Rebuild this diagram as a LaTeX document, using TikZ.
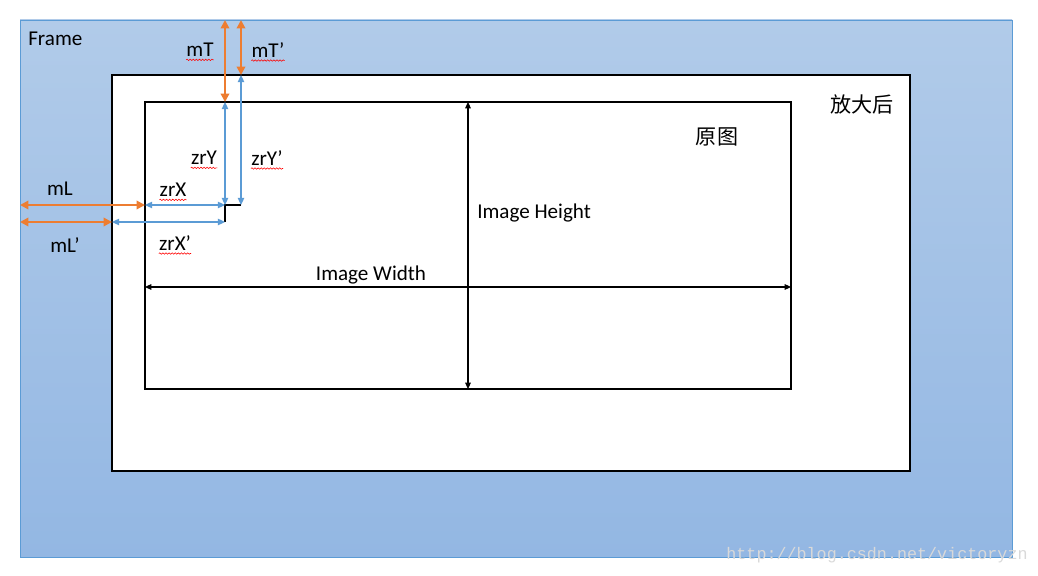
\documentclass[tikz,border=0pt]{standalone}
\usepackage{fontspec}
\setmainfont{Carlito}
\newfontfamily\cjk{Noto Sans CJK SC}
\newfontfamily\wmfont{Liberation Mono}
\usetikzlibrary{arrows.meta,decorations.pathmorphing}
\definecolor{frametop}{RGB}{177,203,233}
\definecolor{framebot}{RGB}{147,183,227}
\definecolor{frameline}{RGB}{91,155,213}
\definecolor{morange}{RGB}{237,125,49}
\definecolor{zblue}{RGB}{91,155,213}
\tikzset{
  lbl/.style={inner sep=0pt,font=\fontsize{15}{18}\selectfont},
  marg/.style={morange,line width=1.8pt,{Triangle[length=6pt,width=6pt]}-{Triangle[length=6pt,width=6pt]}},
  zoomr/.style={zblue,line width=0.9pt,{Triangle[length=5pt,width=4.5pt]}-{Triangle[length=5pt,width=4.5pt]}},
  dimen/.style={black,line width=0.8pt,{Triangle[length=4.5pt,width=4pt]}-{Triangle[length=4.5pt,width=4pt]}},
  squig/.style={red,line width=0.4pt,decorate,decoration={snake,amplitude=0.5pt,segment length=2.2pt}}
}

\begin{document}
\begin{tikzpicture}[x=0.025cm,y=-0.025cm]
\useasboundingbox (0,0) rectangle (1038,576);
% frame
\shade[top color=frametop,bottom color=framebot] (20,20) rectangle (1012,557);
\draw[frameline,line width=0.7pt] (20,20) rectangle (1012,557);
\node[lbl,anchor=west] (frame) at (28,39) {Frame};
% enlarged and original image
\draw[black,fill=white,line width=0.8pt] (112,75) rectangle (910,471);
\draw[black,line width=0.8pt] (145,102) rectangle (791,389);
\node[lbl] (big) at (862,104) {\cjk 放大后};
\node[lbl] (orig) at (717,137) {\cjk 原图};

% image size
\coordinate (hT) at (468,102);
\coordinate (hB) at (468,389);
\coordinate (wL) at (145,287);
\coordinate (wR) at (791,287);
\draw[dimen] (hT) -- (hB);
\draw[dimen] (wL) -- (wR);
\node[lbl,anchor=west] (ih) at (477,213) {Image Height};
\node[lbl] (iw) at (371,275) {Image Width};

% zoom point
\coordinate (p) at (225,205);
\coordinate (pR) at (241,205);
\coordinate (pB) at (225,222);
\draw[black,line width=0.8pt] (pR) -- (p) -- (pB);

% margins
\coordinate (fTa) at (225,20);
\coordinate (fTb) at (241,20);
\coordinate (oT) at (225,102);
\coordinate (bT) at (241,75);
\coordinate (fLa) at (20,205);
\coordinate (fLb) at (20,222);
\coordinate (oL) at (145,205);
\coordinate (bL) at (112,222);
\draw[zoomr] (oT) -- (p);
\draw[zoomr] (bT) -- (pR);
\draw[zoomr] (oL) -- (p);
\draw[zoomr] (bL) -- (pB);
\draw[marg] (fTa) -- (oT);
\draw[marg] (fTb) -- (bT);
\draw[marg] (fLa) -- (oL);
\draw[marg] (fLb) -- (bL);

% labels
\node[lbl] (mT) at (200,50) {mT};
\node[lbl] (mTp) at (268,50) {mT’};
\node[lbl] (zrY) at (204,158) {zrY};
\node[lbl] (zrYp) at (267,158) {zrY’};
\node[lbl] (mL) at (60,189) {mL};
\node[lbl] (zrX) at (173,190) {zrX};
\node[lbl] (mLp) at (65,245) {mL’};
\node[lbl] (zrXp) at (175,243) {zrX’};
\foreach \n in {mT,mTp,zrY,zrYp,zrX,zrXp}
  \draw[squig] ([yshift=-2pt]\n.south west) -- ([yshift=-2pt]\n.south east);

% watermark
\node[inner sep=0pt,text=black!15,font=\wmfont\fontsize{11.9}{14}\selectfont] (wm) at (877,555) {http://blog.csdn.net/victoryzn};
\end{tikzpicture}
\end{document}
